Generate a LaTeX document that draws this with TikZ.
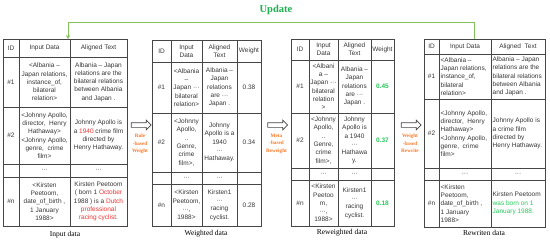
\documentclass[tikz,border=0pt]{standalone}
\usepackage{fontspec}
\setmainfont{Liberation Serif}
\newfontfamily\tabfont{Liberation Sans}
\usetikzlibrary{arrows.meta,positioning,shapes.arrows}
\definecolor{gridcol}{RGB}{70,70,70}
\definecolor{txtcol}{RGB}{55,55,55}
\definecolor{hlred}{RGB}{240,50,50}
\definecolor{hlgreen}{RGB}{40,200,90}
\definecolor{updline}{RGB}{130,195,90}
\definecolor{updtext}{RGB}{30,175,80}
\definecolor{stepcol}{RGB}{250,120,40}
\tikzset{
  tline/.style={draw=gridcol,line width=.75pt},
  cell/.style={inner sep=0pt,align=center,text=txtcol,
               font=\tabfont\fontsize{6.5}{8.3}\selectfont},
  cellL/.style={cell,align=left,anchor=west},
  wgt/.style={cell,text=hlgreen,font=\tabfont\bfseries\fontsize{6.5}{8.3}\selectfont},
  caplbl/.style={inner sep=0pt,font=\fontsize{7.5}{9}\selectfont},
  blockarr/.style={single arrow,draw=gridcol,fill=white,line width=.7pt,
                   minimum height=20pt,inner sep=2pt,single arrow head extend=2.5pt},
  steplbl/.style={inner sep=0pt,align=center,text=stepcol,
                  font=\bfseries\fontsize{5.2}{7.6}\selectfont},
  upd/.style={draw=updline,line width=1pt,-{Stealth[length=4pt,width=4.5pt]}},
}
\newcommand{\rd}[1]{\textcolor{hlred}{#1}}
\newcommand{\gn}[1]{\textcolor{hlgreen}{#1}}

\begin{document}
\begin{tikzpicture}[x=1pt,y=-1pt]
  \useasboundingbox (0,0) rectangle (550,244);
  % --- input data
  \draw[tline] (3,39) rectangle (127,226);
  \foreach \x in {19,70} \draw[tline] (\x,39) -- (\x,226);
  \foreach \y in {57,107,164,177} \draw[tline] (3,\y) -- (127,\y);
  \node[cell] (in-hid) at (11,48) {ID};
  \node[cell] (in-hin) at (44.5,48) {Input Data};
  \node[cell] (in-hal) at (98.5,48) {Aligned Text};
  \foreach \r/\y/\t in {1/82/\#1,2/135.5/\#2,n/201.5/\#n}
    \node[cell] (in-id\r) at (11,\y) {\t};
  \node[cell] (in-in1) at (44.5,82) {<Albania –\\Japan relations,\\instance\_of,\\bilateral\\relation>};
  \node[cell] (in-al1) at (98.5,82) {Albania – Japan\\relations are the\\bilateral relations\\between Albania\\and Japan .};
  \node[cell] (in-in2) at (44.5,135.5) {<Johnny Apollo,\\director,\ \ Henry\\Hathaway>\\<Johnny Apollo,\\genre,\ \ crime\\film>};
  \node[cell] (in-al2) at (98.5,135.5) {Johnny Apollo is\\a \rd{1940} crime film\\directed by\\Henry Hathaway.};
  \node[cell] (in-ind) at (44.5,170.5) {···};
  \node[cell] (in-ald) at (98.5,170.5) {···};
  \node[cell] (in-inn) at (44.5,201.5) {<Kirsten\\Peetoom,\\date\_of\_birth ,\\1 January\\1988>};
  \node[cell] (in-aln) at (98.5,201.5) {Kirsten Peetoom\\( born 1 \rd{October}\\1988 ) is a \rd{Dutch}\\\rd{professional}\\\rd{racing cyclist}.};
  \node[caplbl] (cap-in) at (65,235) {Input data};

  % --- weighted data
  \draw[tline] (152,40) rectangle (261,226);
  \foreach \x in {171,202,237} \draw[tline] (\x,40) -- (\x,226);
  \foreach \y in {62,113,172,184} \draw[tline] (152,\y) -- (261,\y);
  \node[cell] (wd-hid) at (161.5,51) {ID};
  \node[cell] (wd-hin) at (186.5,51) {Input\\Data};
  \node[cell] (wd-hal) at (219.5,51) {Aligned\\Text};
  \node[cell] (wd-hw) at (249,51) {Weight};
  \foreach \r/\y/\t/\w in {1/87.5/\#1/0.38,2/142.5/\#2/0.34,n/205/\#n/0.28}{
    \node[cell] (wd-id\r) at (161.5,\y) {\t};
    \node[cell] (wd-w\r) at (249,\y) {\w};
  }
  \node[cell] (wd-in1) at (186.5,87.5) {<Albania\\–\\Japan ···\\bilateral\\relation>};
  \node[cell] (wd-al1) at (219.5,87.5) {Albania –\\Japan\\relations\\are ···\\Japan .};
  \node[cell] (wd-in2) at (186.5,142.5) {<Johnny\\Apollo,\\..\\Genre,\\crime\\film>,};
  \node[cell] (wd-al2) at (219.5,142.5) {Johnny\\Apollo is a\\1940\\···\\Hathaway.};
  \node[cell] (wd-ind) at (186.5,178) {···};
  \node[cell] (wd-ald) at (219.5,178) {···};
  \node[cell] (wd-inn) at (186.5,205) {<Kirsten\\Peetoom,\\···,\\1988>};
  \node[cell] (wd-aln) at (219.5,205) {Kirsten1\\···\\racing\\cyclist.};
  \node[caplbl] (cap-wd) at (206,234) {Weighted data};

  % --- reweighted data
  \draw[tline] (291,39) rectangle (394,226);
  \foreach \x in {309,338,371} \draw[tline] (\x,39) -- (\x,226);
  \foreach \y in {60,113,168,180} \draw[tline] (291,\y) -- (394,\y);
  \node[cell] (rw-hid) at (300,49.5) {ID};
  \node[cell] (rw-hin) at (323.5,49.5) {Input\\Data};
  \node[cell] (rw-hal) at (354.5,49.5) {Aligned\\Text};
  \node[cell] (rw-hw) at (382.5,49.5) {Weight};
  \foreach \r/\y/\t/\w in {1/86.5/\#1/0.45,2/140.5/\#2/0.37,n/203/\#n/0.18}{
    \node[cell] (rw-id\r) at (300,\y) {\t};
    \node[wgt] (rw-w\r) at (382.5,\y) {\w};
  }
  \node[cell] (rw-in1) at (323.5,86.5) {<Albani\\a –\\Japan ···\\bilateral\\relation\\>};
  \node[cell] (rw-al1) at (354.5,86.5) {Albania –\\Japan\\relations\\are ···\\Japan .};
  \node[cell] (rw-in2) at (323.5,140.5) {<Johnny\\Apollo,\\..\\Genre,\\crime\\film>,};
  \node[cell] (rw-al2) at (354.5,140.5) {Johnny\\Apollo is\\a 1940\\···\\Hathawa\\y.};
  \node[cell] (rw-ind) at (323.5,174) {···};
  \node[cell] (rw-ald) at (354.5,174) {···};
  \node[cell] (rw-inn) at (323.5,203) {<Kirsten\\Peetoo\\m,\\···,\\1988>};
  \node[cell] (rw-aln) at (354.5,203) {Kirsten1\\···\\racing\\cyclist.};
  \node[caplbl] (cap-rw) at (342,233) {Reweighted data};

  % --- rewritten data
  \draw[tline] (424,39) rectangle (545,227);
  \foreach \x in {439,491} \draw[tline] (\x,39) -- (\x,227);
  \foreach \y in {54,99,168,180} \draw[tline] (424,\y) -- (545,\y);
  \node[cell] (rt-hid) at (431.5,46.5) {ID};
  \node[cell] (rt-hin) at (465,46.5) {Input Data};
  \node[cell] (rt-hal) at (518,46.5) {Aligned\ \ Text};
  \foreach \r/\y/\t in {1/76.5/\#1,2/133.5/\#2,n/203.5/\#n}
    \node[cell] (rt-id\r) at (431.5,\y) {\t};
  \node[cellL] (rt-in1) at (440.5,76.5) {<Albania –\\Japan relations,\\instance\_of,\\bilateral\\relation>};
  \node[cellL] (rt-al1) at (492.5,76.5) {Albania – Japan\\relations are the\\bilateral relations\\between Albania\\and Japan .};
  \node[cellL] (rt-in2) at (440.5,133.5) {<Johnny Apollo,\\director,\ \ Henry\\Hathaway>\\<Johnny Apollo,\\genre,\ \ crime\\film>};
  \node[cellL] (rt-al2) at (492.5,133.5) {Johnny Apollo is\\a crime film\\directed by\\Henry Hathaway.};
  \node[cell] (rt-ind) at (465,174) {···};
  \node[cell] (rt-ald) at (518,174) {···};
  \node[cellL] (rt-inn) at (440.5,203.5) {<Kirsten\\Peetoom,\\date\_of\_birth ,\\1 January\\1988>};
  \node[cellL] (rt-aln) at (492.5,203.5) {Kirsten Peetoom\\\gn{was born on 1}\\\gn{January 1988.}};
  \node[caplbl] (cap-rt) at (484,233) {Rewriten data};

  % --- steps
  \node[blockarr] (ar1) at (140,125) {};
  \node[blockarr] (ar2) at (276.5,125) {};
  \node[blockarr] (ar3) at (410,125) {};
  \node[steplbl,below=6pt of ar1] (lb1) {Rule\\-based\\Weight};
  \node[steplbl,below=6pt of ar2] (lb2) {Meta\\-based\\Reweight};
  \node[steplbl,below=6pt of ar3] (lb3) {Weight\\-based\\Rewrite};

  % --- update loop
  \coordinate (up-s) at (474,39);
  \coordinate (up-e) at (68,39);
  \draw[upd] (up-s) -- ++(0,-17) -| (up-e);
  \node[inner sep=0pt,text=updtext,font=\bfseries\fontsize{10.5}{12}\selectfont] (upd-lbl) at (276,10) {Update};
\end{tikzpicture}
\end{document}
